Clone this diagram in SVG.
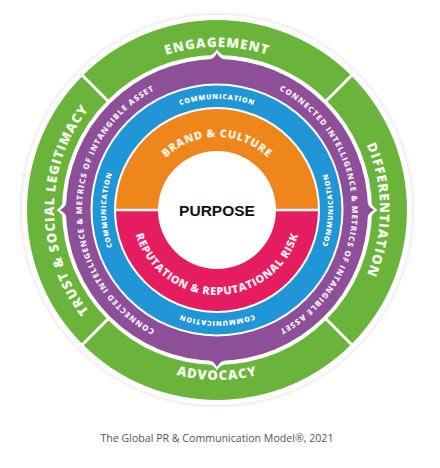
<svg xmlns="http://www.w3.org/2000/svg" xmlns:xlink="http://www.w3.org/1999/xlink" width="440" height="468" viewBox="0 0 440 468">
<style>
.g{fill:#6ab43c}
.ring{font-family:"Open Sans","DejaVu Sans",sans-serif;font-weight:800}
.gt{font-size:13.2px;letter-spacing:1px;fill:#f4faec}
.pt{font-size:8px;letter-spacing:0.95px;fill:#f6e8f7}
.bt{font-size:7px;letter-spacing:0.8px;fill:#ffffff}
.ot{font-size:11px;letter-spacing:0.55px;fill:#fff1e0}
.rt{font-size:11px;letter-spacing:0.55px;fill:#ffe8ef}
.div{stroke:#ffffff;stroke-width:3}
</style>
<defs>
<filter id="sh" x="-10%" y="-10%" width="120%" height="120%">
<feDropShadow dx="0" dy="0" stdDeviation="2" flood-color="#000" flood-opacity="0.18"/>
</filter>
<path id="notchW" d="M-11,-153 Q-4,-154 0,-160.5 Q4,-154 11,-153 Z" fill="#ffffff"/>
<path id="notchP" d="M-9,-150 Q-3,-151 0,-157 Q3,-151 9,-150 Z" fill="#8d4f97"/>
<path id="pGT" d="M103.77,92.75 A163,163 0 0 1 330.23,92.75"/>
<path id="pGR" d="M334.25,96.77 A163,163 0 0 1 334.25,323.23"/>
<path id="pGL" d="M99.75,323.23 A163,163 0 0 1 99.75,96.77"/>
<path id="pGB" d="M98.91,332.29 A170,170 0 0 0 335.09,332.29"/>
<path id="pPL" d="M193.56,342.95 A135,135 0 0 1 193.56,77.05"/>
<path id="pPR" d="M240.44,77.05 A135,135 0 0 1 240.44,342.95"/>
<path id="pBT" d="M145.65,124.97 A111,111 0 0 1 288.35,124.97"/>
<path id="pBB" d="M288.35,295.03 A111,111 0 0 1 145.65,295.03"/>
<path id="pBL" d="M131.97,281.35 A111,111 0 0 1 131.97,138.65"/>
<path id="pBR" d="M305.86,284.56 A116,116 0 0 0 305.86,135.44"/>
<path id="pO" d="M148.4,185.03 A73,73 0 0 1 285.6,185.03"/>
<path id="pR" d="M132.32,217.41 A85,85 0 0 0 301.68,217.41"/>
</defs>
<rect width="440" height="468" fill="#ffffff"/>
<circle cx="217" cy="210" r="195" fill="#ffffff" filter="url(#sh)"/>

<g id="engagement">
<path class="g" d="M82.65,75.65 A190,190 0 0 1 351.35,75.65 L326.6,100.4 A155,155 0 0 0 107.4,100.4 Z"/>
<text class="ring gt" text-anchor="middle"><textPath href="#pGT" startOffset="50%">ENGAGEMENT</textPath></text>
</g>
<g id="differentiation">
<path class="g" d="M351.35,75.65 A190,190 0 0 1 351.35,344.35 L326.6,319.6 A155,155 0 0 0 326.6,100.4 Z"/>
<text class="ring gt" text-anchor="middle"><textPath href="#pGR" startOffset="50%">DIFFERENTIATION</textPath></text>
</g>
<g id="advocacy">
<path class="g" d="M351.35,344.35 A190,190 0 0 1 82.65,344.35 L107.4,319.6 A155,155 0 0 0 326.6,319.6 Z"/>
<text class="ring gt" text-anchor="middle"><textPath href="#pGB" startOffset="50%">ADVOCACY</textPath></text>
</g>
<g id="trust">
<path class="g" d="M82.65,344.35 A190,190 0 0 1 82.65,75.65 L107.4,100.4 A155,155 0 0 0 107.4,319.6 Z"/>
<text class="ring gt" text-anchor="middle"><textPath href="#pGL" startOffset="50%">TRUST &amp; SOCIAL LEGITIMACY</textPath></text>
</g>
<g id="dividers">
<line class="div" x1="108.2" y1="101.2" x2="79.5" y2="72.5"/>
<line class="div" x1="325.8" y1="101.2" x2="354.5" y2="72.5"/>
<line class="div" x1="325.8" y1="318.8" x2="354.5" y2="347.5"/>
<line class="div" x1="108.2" y1="318.8" x2="79.5" y2="347.5"/>
</g>

<g id="intelligence">
<g transform="translate(217,210)">
<use href="#notchW"/>
<use href="#notchW" transform="rotate(90)"/>
<use href="#notchW" transform="rotate(180)"/>
<use href="#notchW" transform="rotate(270)"/>
<circle r="151" fill="#8d4f97"/>
<use href="#notchP"/>
<use href="#notchP" transform="rotate(90)"/>
<use href="#notchP" transform="rotate(180)"/>
<use href="#notchP" transform="rotate(270)"/>
<circle r="126.5" fill="#ffffff"/>
</g>
<text class="ring pt" text-anchor="middle"><textPath href="#pPL" startOffset="50%">CONNECTED INTELLIGENCE &amp; METRICS OF INTANGIBLE ASSET</textPath></text>
<text class="ring pt" text-anchor="middle"><textPath href="#pPR" startOffset="50%">CONNECTED INTELLIGENCE &amp; METRICS OF INTANGIBLE ASSET</textPath></text>
</g>

<g id="communication">
<circle cx="217" cy="210" r="124.5" fill="#2196d6"/>
<circle cx="217" cy="210" r="103" fill="#ffffff"/>
<text class="ring bt" text-anchor="middle"><textPath href="#pBT" startOffset="50%">COMMUNICATION</textPath></text>
<text class="ring bt" text-anchor="middle"><textPath href="#pBB" startOffset="50%">COMMUNICATION</textPath></text>
<text class="ring bt" text-anchor="middle"><textPath href="#pBL" startOffset="50%">COMMUNICATION</textPath></text>
<text class="ring bt" text-anchor="middle"><textPath href="#pBR" startOffset="50%">COMMUNICATION</textPath></text>
</g>

<g id="brand-culture">
<path d="M116,210 A101,101 0 0 1 318,210 Z" fill="#ef861b"/>
<text class="ring ot" text-anchor="middle"><textPath href="#pO" startOffset="50%">BRAND &amp; CULTURE</textPath></text>
</g>
<g id="reputation">
<path d="M116,210 A101,101 0 0 0 318,210 Z" fill="#e51c60"/>
<text class="ring rt" text-anchor="middle"><textPath href="#pR" startOffset="50%">REPUTATION &amp; REPUTATIONAL RISK</textPath></text>
</g>
<line x1="114" y1="210" x2="320" y2="210" stroke="#ffffff" stroke-width="2.5"/>

<g id="purpose">
<circle cx="217" cy="210" r="59" fill="#ffffff"/>
<text x="217" y="216" text-anchor="middle" font-family="'Liberation Sans',Arial,sans-serif" font-weight="700" font-size="15.5" fill="#111111">PURPOSE</text>
</g>

<text x="217" y="442" text-anchor="middle" font-family="'Open Sans','Liberation Sans',sans-serif" font-size="10" fill="#555555" textLength="233" lengthAdjust="spacingAndGlyphs">The Global PR &amp; Communication Model®, 2021</text>
</svg>
